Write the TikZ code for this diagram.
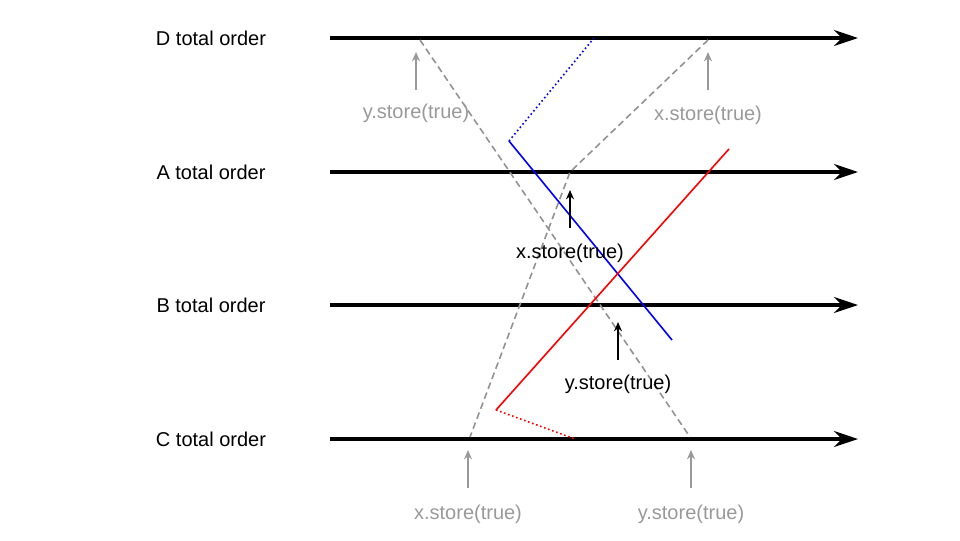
\documentclass[tikz,border=0pt]{standalone}
\usepackage{fontspec}
\setmainfont{Liberation Sans}
\usetikzlibrary{arrows.meta}
\begin{document}
\begin{tikzpicture}[x=0.75pt,y=-0.75pt,
  axis/.style={line width=2.4pt,-{Stealth[length=18pt,width=12pt]}},
  lab/.style={font=\fontsize{15}{18}\selectfont},
  glab/.style={lab,text=gray!80},
  garr/.style={gray!80,line width=1.4pt,-{Stealth[length=7pt,width=6pt]}},
  barr/.style={black,line width=1.4pt,-{Stealth[length=7pt,width=6pt]}},
  gd/.style={gray!85,line width=1.2pt,dash pattern=on 5pt off 3pt}]
\useasboundingbox (0,0) rectangle (960,540);
\foreach \n/\t/\y in {d/D/38,a/A/172,b/B/305,c/C/439}{
  \node[lab] (\n l) at (211,\y) {\t\ total order};
  \coordinate (\n s) at (330,\y);
  \coordinate (\n e) at (858,\y);
  \draw[axis] (\n s) -- (\n e);
}
\coordinate (g1a) at (420,40); \coordinate (g1b) at (690,437);
\coordinate (g2a) at (708,40); \coordinate (g2b) at (570,172); \coordinate (g2c) at (470,437);
\draw[gd] (g1a) -- (g1b);
\draw[gd] (g2a) -- (g2b) -- (g2c);
\coordinate (bl1) at (509,141); \coordinate (bl2) at (672,340); \coordinate (bl3) at (594,38);
\draw[blue,line width=1.2pt] (bl1) -- (bl2);
\draw[blue,line width=1.2pt,dotted] (bl1) -- (bl3);
\coordinate (r1) at (496,410); \coordinate (r2) at (729,149); \coordinate (r3) at (575,439);
\draw[red,line width=1.2pt] (r1) -- (r2);
\draw[red,line width=1.2pt,dotted] (r1) -- (r3);
\node[glab] (t1) at (416,113) {y.store(true)};
\coordinate (t1a) at (416,90); \coordinate (t1b) at (416,52);
\draw[garr] (t1a) -- (t1b);
\node[glab] (t2) at (708,115) {x.store(true)};
\coordinate (t2a) at (708,90); \coordinate (t2b) at (708,52);
\draw[garr] (t2a) -- (t2b);
\node[glab] (t3) at (468,514) {x.store(true)};
\coordinate (t3a) at (468,488); \coordinate (t3b) at (468,450);
\draw[garr] (t3a) -- (t3b);
\node[glab] (t4) at (691,514) {y.store(true)};
\coordinate (t4a) at (691,488); \coordinate (t4b) at (691,450);
\draw[garr] (t4a) -- (t4b);
\node[lab] (t5) at (570,253) {x.store(true)};
\coordinate (t5a) at (570,228); \coordinate (t5b) at (570,190);
\draw[barr] (t5a) -- (t5b);
\node[lab] (t6) at (618,384) {y.store(true)};
\coordinate (t6a) at (618,360); \coordinate (t6b) at (618,322);
\draw[barr] (t6a) -- (t6b);
\end{tikzpicture}
\end{document}
